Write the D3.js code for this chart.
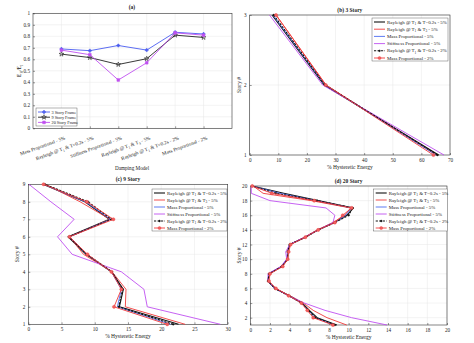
<!DOCTYPE html>
<html><head><meta charset="utf-8">
<script src="https://cdn.jsdelivr.net/npm/d3@7"></script>
<style>body{margin:0;background:#fff} svg text{font-family:"Liberation Serif","Times New Roman",serif;fill:#222}</style>
</head><body><svg id="c" width="474" height="343"></svg>
<script>
// ---------- Panel (a) data ----------
const dampingModels = ["Mass Proportional - 5%","Rayleigh @ T_1 & T=0.2s - 5%","Stiffness Proportional - 5%","Rayleigh @ T_1 & T_3 - 5%","Rayleigh @ T_1 & T=0.2s - 2%","Mass Proportional - 2%"];
const ratio3Story  = [0.69, 0.675, 0.72, 0.68, 0.835, 0.82];
const ratio9Story  = [0.645, 0.615, 0.555, 0.605, 0.81, 0.79];
const ratio20Story = [0.68, 0.64, 0.42, 0.57, 0.83, 0.81];
const frameNames = ["3 Story Frame","9 Story Frame","20 Story Frame"];
const ratioTicks = [0,0.1,0.2,0.3,0.4,0.5,0.6,0.7,0.8,0.9,1];

// ---------- Profile panels ----------
const seriesNames = ["Rayleigh @ T_1 & T=0.2s - 5%","Rayleigh @ T_1 & T_3 - 5%","Mass Proportional - 5%","Stiffness Proportional - 5%","Rayleigh @ T_1 & T=0.2s - 2%","Mass Proportional - 2%"];
// 3 story (stories 1..3)
const stories3 = [1,2,3];
const b_rayleigh5 = [66.0, 26.0, 7.8];
const b_rayleighT3 = [65.2, 26.7, 9.2];
const b_mass5 = [65.1, 26.3, 8.1];
const b_stiff5 = [67.9, 25.5, 6.9];
const b_rayleigh2 = [65.6, 26.4, 8.4];
const b_mass2 = [64.2, 26.6, 9.2];
// 9 story (stories 1..9)
const stories9 = [1,2,3,4,5,6,7,8,9];
const c_rayleigh5 = [22.6, 13.7, 14.3, 12.5, 8.7, 6.0, 12.2, 8.5, 2.2];
const c_rayleighT3 = [23.6, 14.6, 14.7, 12.6, 8.3, 6.2, 12.3, 7.8, 2.6];
const c_mass5 = [21.4, 13.4, 14.0, 12.5, 8.8, 6.2, 12.4, 8.6, 2.3];
const c_stiff5 = [28.9, 17.9, 17.4, 14.0, 6.6, 4.4, 6.9, 3.4, 0.1];
const c_rayleigh2 = [21.8, 13.6, 14.2, 12.6, 8.8, 6.1, 12.5, 9.0, 2.5];
const c_mass2 = [20.9, 12.9, 14.0, 12.5, 8.9, 6.2, 12.8, 8.8, 2.3];
// 20 story (stories 1..20)
const stories20 = d3.range(1, 21);
const d_rayleigh5 = [8.8, 6.8, 6.0, 5.3, 4.0, 2.5, 1.8, 1.9, 3.2, 3.8, 3.8, 4.0, 5.6, 6.9, 8.5, 9.8, 10.5, 6.9, 3.4, 0.2];
const d_rayleighT3 = [9.8, 7.8, 6.4, 5.4, 4.0, 2.6, 1.8, 1.9, 3.2, 3.8, 3.8, 4.0, 5.5, 6.8, 8.4, 9.6, 10.2, 6.2, 1.3, 0.3];
const d_mass5 = [8.5, 6.6, 5.9, 5.2, 3.9, 2.5, 1.8, 1.9, 3.2, 3.7, 3.8, 4.0, 5.6, 6.9, 8.6, 9.7, 10.3, 6.7, 3.0, 0.2];
const d_stiff5 = [13.9, 10.3, 7.6, 5.5, 3.9, 2.5, 1.8, 1.8, 3.1, 3.7, 3.6, 4.0, 5.5, 6.9, 8.4, 8.6, 7.7, 2.0, 0.1, 0.1];
const d_rayleigh2 = [8.6, 6.6, 5.9, 5.2, 3.9, 2.5, 1.8, 1.9, 3.2, 3.8, 3.8, 4.0, 5.6, 6.9, 8.6, 10.0, 10.4, 6.8, 2.6, 0.2];
const d_mass2 = [8.4, 6.4, 5.8, 5.2, 3.9, 2.6, 1.9, 2.0, 3.3, 3.8, 3.9, 4.1, 5.6, 6.9, 8.6, 9.4, 10.3, 6.5, 2.2, 0.2];

const svg = d3.select("#c");
const GRID = "#e6e6e6", AX = "#333";

function rich(sel, str, fs) {
  const parts = str.split(/_(\w)/);
  let pending = 0;
  parts.forEach((p, i) => {
    if (i % 2 === 1) {
      sel.append("tspan").attr("dy", pending + fs * 0.3).attr("font-size", fs * 0.7).text(p);
      pending = -fs * 0.3;
    } else if (p) {
      sel.append("tspan").attr("dy", pending).text(p);
      pending = 0;
    }
  });
}

function frame(g, x, y, xTicks, yTicks, opt) {
  const [x0, x1] = x.range(), [y0, y1] = y.range();
  g.append("g").selectAll("line").data(xTicks).join("line")
    .attr("x1", d => x(d)).attr("x2", d => x(d)).attr("y1", y0).attr("y2", y1)
    .attr("stroke", GRID).attr("stroke-width", 0.5);
  g.append("g").selectAll("line").data(yTicks).join("line")
    .attr("y1", d => y(d)).attr("y2", d => y(d)).attr("x1", x0).attr("x2", x1)
    .attr("stroke", GRID).attr("stroke-width", 0.5);
  const xa = g.append("g").attr("transform", `translate(0,${y0})`)
    .call(d3.axisBottom(x).tickValues(xTicks).tickSizeInner(-2).tickSizeOuter(0).tickPadding(3).tickFormat(opt.xFmt || d3.format("")));
  const ya = g.append("g").attr("transform", `translate(${x0},0)`)
    .call(d3.axisLeft(y).tickValues(yTicks).tickSizeInner(-2).tickSizeOuter(0).tickPadding(3).tickFormat(opt.yFmt || d3.format("")));
  [xa, ya].forEach(a => {
    a.select(".domain").remove();
    a.selectAll("line").attr("stroke", AX).attr("stroke-width", 0.5);
    a.selectAll("text").attr("font-size", 5.2).attr("font-family", "Liberation Serif").attr("fill", "#333");
  });
  g.append("rect").attr("x", x0).attr("y", y1).attr("width", x1 - x0).attr("height", y0 - y1)
    .attr("fill", "none").attr("stroke", AX).attr("stroke-width", 0.6);
  return {xa, ya};
}

// ---------------- Panel (a) ----------------
(function () {
  const g = svg.append("g");
  const x = d3.scaleLinear().domain([0, 7]).range([33, 232]);
  const y = d3.scaleLinear().domain([0, 1]).range([128.3, 13.3]);
  const idx = d3.range(1, 7);
  const {xa} = frame(g, x, y, idx, ratioTicks, {xFmt: () => "", yFmt: d3.format("")});
  xa.selectAll(".tick text").remove();
  idx.forEach((k, i) => {
    const t = g.append("text").attr("font-size", 5).attr("text-anchor", "end")
      .attr("transform", `translate(${x(k) + 4},${y(0) + 11}) rotate(-20)`);
    rich(t, dampingModels[i], 5);
  });
  g.append("text").attr("x", 132).attr("y", 8.5).attr("text-anchor", "middle").attr("font-size", 5.5).attr("font-weight", "bold").text("(a)");
  g.append("text").attr("x", 132).attr("y", 170).attr("text-anchor", "middle").attr("font-size", 5.2).text("Damping Model");
  const yl = g.append("text").attr("text-anchor", "middle").attr("font-size", 5.5)
    .attr("transform", `translate(21,${(13.3 + 128.3) / 2}) rotate(-90)`);
  rich(yl, "E_H/E_I", 5.5);

  const sets = [
    {vals: ratio3Story, color: "#4a5cf0", marker: "star"},
    {vals: ratio9Story, color: "#222222", marker: "hex"},
    {vals: ratio20Story, color: "#c050f0", marker: "square"}
  ];
  const sym = m => d3.symbol().type(m === "square" ? d3.symbolSquare : m === "hex" ? d3.symbolStar : d3.symbolCross).size(m === "star" ? 5 : 7);
  const line = d3.line().x((d, i) => x(i + 1)).y(d => y(d));
  sets.forEach(s => {
    g.append("path").attr("d", line(s.vals)).attr("fill", "none").attr("stroke", s.color).attr("stroke-width", 0.9);
    g.append("g").selectAll("path").data(s.vals).join("path")
      .attr("transform", (d, i) => `translate(${x(i + 1)},${y(d)})`)
      .attr("d", sym(s.marker))
      .attr("fill", s.marker === "hex" ? "none" : s.color).attr("stroke", s.color).attr("stroke-width", 0.6);
  });
  const lg = g.append("g");
  lg.append("rect").attr("x", 36).attr("y", 108).attr("width", 41).attr("height", 18).attr("fill", "#fff").attr("stroke", "#444").attr("stroke-width", 0.4);
  sets.forEach((s, i) => {
    const yy = 112 + i * 5.2;
    lg.append("line").attr("x1", 38).attr("x2", 50).attr("y1", yy).attr("y2", yy).attr("stroke", s.color).attr("stroke-width", 0.9);
    lg.append("path").attr("transform", `translate(44,${yy})`).attr("d", sym(s.marker))
      .attr("fill", s.marker === "hex" ? "none" : s.color).attr("stroke", s.color).attr("stroke-width", 0.6);
    lg.append("text").attr("x", 51.5).attr("y", yy + 1.5).attr("font-size", 4.3).text(frameNames[i]);
  });
})();

// ---------------- Profile panels ----------------
const styles = [
  {color: "#111", width: 1.1, dash: null, marker: null},
  {color: "#f03a3a", width: 0.9, dash: null, marker: null},
  {color: "#4a6cf0", width: 0.9, dash: null, marker: null},
  {color: "#c050f0", width: 0.9, dash: null, marker: null},
  {color: "#111", width: 1.1, dash: "2.2,1.3", marker: "dot"},
  {color: "#f03a3a", width: 0.9, dash: null, marker: "circle"}
];

function profile(cfg) {
  const g = svg.append("g");
  const x = d3.scaleLinear().domain([0, cfg.xMax]).range([cfg.left, cfg.right]);
  const y = d3.scaleLinear().domain([cfg.yMin, cfg.yMax]).range([cfg.bottom, cfg.top]);
  frame(g, x, y, d3.range(0, cfg.xMax + 0.001, cfg.xStep), cfg.yTicks, {});
  const line = d3.line().x(d => x(d[0])).y(d => y(d[1]));
  cfg.series.forEach((vals, k) => {
    const st = styles[k];
    const pts = vals.map((v, i) => [v, cfg.stories[i]]);
    g.append("path").attr("d", line(pts)).attr("fill", "none").attr("stroke", st.color)
      .attr("stroke-width", st.width).attr("stroke-dasharray", st.dash).attr("stroke-linejoin", "round");
    if (st.marker) {
      g.append("g").selectAll("circle").data(pts).join("circle")
        .attr("cx", d => x(d[0])).attr("cy", d => y(d[1]))
        .attr("r", st.marker === "dot" ? 0.9 : 1.6)
        .attr("fill", st.marker === "dot" ? "#111" : "#f06060").attr("stroke", st.color).attr("stroke-width", 0.4);
    }
  });
  g.append("text").attr("x", (cfg.left + cfg.right) / 2).attr("y", cfg.top - 3.5).attr("text-anchor", "middle")
    .attr("font-size", 5.5).attr("font-weight", "bold").text(cfg.title);
  g.append("text").attr("x", (cfg.left + cfg.right) / 2).attr("y", cfg.bottom + 13.5).attr("text-anchor", "middle")
    .attr("font-size", 5.5).text("% Hysteretic Energy");
  g.append("text").attr("text-anchor", "middle").attr("font-size", 5.5)
    .attr("transform", `translate(${cfg.left - 9},${(cfg.top + cfg.bottom) / 2}) rotate(-90)`).text("Story #");
  const L = cfg.legend;
  const lg = g.append("g");
  lg.append("rect").attr("x", L[0]).attr("y", L[1]).attr("width", L[2]).attr("height", L[3])
    .attr("fill", "#fff").attr("stroke", "#444").attr("stroke-width", 0.4);
  seriesNames.forEach((nm, k) => {
    const st = styles[k];
    const yy = L[1] + 4 + k * (L[3] - 7) / 5;
    lg.append("line").attr("x1", L[0] + 2).attr("x2", L[0] + 13).attr("y1", yy).attr("y2", yy)
      .attr("stroke", st.color).attr("stroke-width", st.width).attr("stroke-dasharray", st.dash);
    if (st.marker) lg.append("circle").attr("cx", L[0] + 7.5).attr("cy", yy).attr("r", st.marker === "dot" ? 0.9 : 1.5)
      .attr("fill", st.marker === "dot" ? "#111" : "#f06060").attr("stroke", st.color).attr("stroke-width", 0.4);
    const t = lg.append("text").attr("x", L[0] + 15).attr("y", yy + 1.6).attr("font-size", 4.9);
    rich(t, nm, 4.9);
  });
}

profile({left: 249.7, right: 450, top: 15, bottom: 155, xMax: 70, xStep: 10, yMin: 1, yMax: 3, yTicks: [1, 2, 3],
  stories: stories3, series: [b_rayleigh5, b_rayleighT3, b_mass5, b_stiff5, b_rayleigh2, b_mass2],
  title: "(b) 3 Story", legend: [372, 18, 76, 43]});
profile({left: 28.3, right: 227.7, top: 184.3, bottom: 324.3, xMax: 30, xStep: 5, yMin: 1, yMax: 9, yTicks: d3.range(1, 10),
  stories: stories9, series: [c_rayleigh5, c_rayleighT3, c_mass5, c_stiff5, c_rayleigh2, c_mass2],
  title: "(c) 9 Story", legend: [152, 189, 75, 42]});
profile({left: 250.3, right: 447, top: 186, bottom: 325, xMax: 20, xStep: 2, yMin: 1, yMax: 20, yTicks: d3.range(2, 21, 2),
  stories: stories20, series: [d_rayleigh5, d_rayleighT3, d_mass5, d_stiff5, d_rayleigh2, d_mass2],
  title: "(d) 20 Story", legend: [373.7, 189, 74, 42]});
</script></body></html>
